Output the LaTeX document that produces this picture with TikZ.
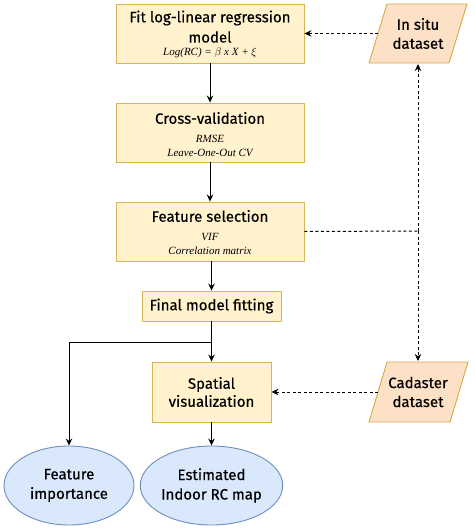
\documentclass[tikz,border=0pt]{standalone}
\usepackage{fontspec}
\setmainfont{Fira Sans}[FakeBold=0.35]
\newfontfamily\subfont{Liberation Serif}
\usetikzlibrary{arrows.meta,shapes.geometric}
\definecolor{boxfill}{HTML}{FFF2CC}
\definecolor{boxline}{HTML}{D6B656}
\definecolor{parfill}{HTML}{FCE1C6}
\definecolor{parline}{HTML}{D9A84A}
\definecolor{ellfill}{HTML}{DAE8FC}
\definecolor{ellline}{HTML}{6C8EBF}
\tikzset{
  procbox/.style={draw=boxline, fill=boxfill, line width=0.9pt, inner sep=0pt, align=center, font=\fontsize{15}{18}\selectfont},
  outell/.style={draw=ellline, fill=ellfill, ellipse, line width=0.9pt, inner sep=0pt, align=center, font=\fontsize{15}{19.5}\selectfont},
  partext/.style={inner sep=0pt, align=center, font=\fontsize{15}{19}\selectfont},
  titletext/.style={inner sep=0pt, font=\fontsize{15}{18}\selectfont},
  sub/.style={inner sep=0pt, font=\subfont\itshape\fontsize{11}{13}\selectfont},
  flow/.style={-{Stealth[length=7pt,width=6.5pt]}, line width=1pt},
  dflow/.style={-{Stealth[length=7pt,width=6.5pt]}, line width=1pt, dash pattern=on 3pt off 2.5pt},
  dline/.style={line width=1pt, dash pattern=on 3pt off 2.5pt},
}
\begin{document}
\begin{tikzpicture}[x=1pt,y=-1pt]
\useasboundingbox (0,0) rectangle (474,530);
% boxes
\node[procbox, minimum width=188pt, minimum height=59pt] (fit) at (210,33.5) {};
\node[titletext] (fitA) at (210,18) {Fit log-linear regression};
\node[titletext] (fitB) at (210,37) {model};
\node[sub] (fitC) at (210,53) {Log(RC) = $\beta$ x X + $\xi$};
\node[procbox, minimum width=188pt, minimum height=59pt] (cv) at (210,132.5) {};
\node[titletext] (cvA) at (210,118) {Cross-validation};
\node[sub] (cvB) at (210,139) {RMSE};
\node[sub] (cvC) at (210,153) {Leave-One-Out CV};
\node[procbox, minimum width=188pt, minimum height=59pt] (fs) at (210,231.5) {};
\node[titletext] (fsA) at (210,216) {Feature selection};
\node[sub] (fsB) at (210,237) {VIF};
\node[sub] (fsC) at (210,251) {Correlation matrix};
\node[procbox, minimum width=139pt, minimum height=30pt] (fin) at (211.5,306) {Final model fitting};
\node[procbox, minimum width=119pt, minimum height=60pt] (sv) at (211.5,392) {Spatial\\visualization};
\node[outell, minimum width=130pt, minimum height=79pt] (fi) at (69,485.5) {Feature\\importance};
\node[outell, minimum width=119pt, minimum height=79pt] (est) at (211.5,485.5) {Estimated\\Indoor RC map};
% parallelograms
\fill[parfill] (387,4) -- (467,4) -- (449,63) -- (369,63) -- cycle;
\draw[parline, line width=0.9pt] (387,4) -- (467,4) -- (449,63) -- (369,63) -- cycle;
\node[partext] (insitu) at (418,33.5) {In situ\\dataset};
\fill[parfill] (387,362) -- (468,362) -- (450,422) -- (369,422) -- cycle;
\draw[parline, line width=0.9pt] (387,362) -- (468,362) -- (450,422) -- (369,422) -- cycle;
\node[partext] (cad) at (418,392) {Cadaster\\dataset};
\coordinate (insituL) at (378,33.5);
\coordinate (insituB) at (418,64);
\coordinate (cadT) at (418,361);
\coordinate (cadL) at (378,392);
\coordinate (junc) at (418,231);
\coordinate (split) at (211.5,342);
% connectors
\draw[flow] (fit) -- (cv);
\draw[flow] (cv) -- (fs);
\draw[flow] (fs.south -| fin.north) -- (fin);
\draw[flow] (fin) -- (sv);
\draw[flow] (split) -| (fi.north);
\draw[flow] (sv) -- (est);
\draw[dflow] (insituL) -- (fit.east);
\draw[dflow] (junc) -- (insituB);
\draw[dflow] (junc) -- (cadT);
\draw[dline] (fs.east) -- (junc);
\draw[dflow] (cadL) -- (sv.east);
\end{tikzpicture}
\end{document}
